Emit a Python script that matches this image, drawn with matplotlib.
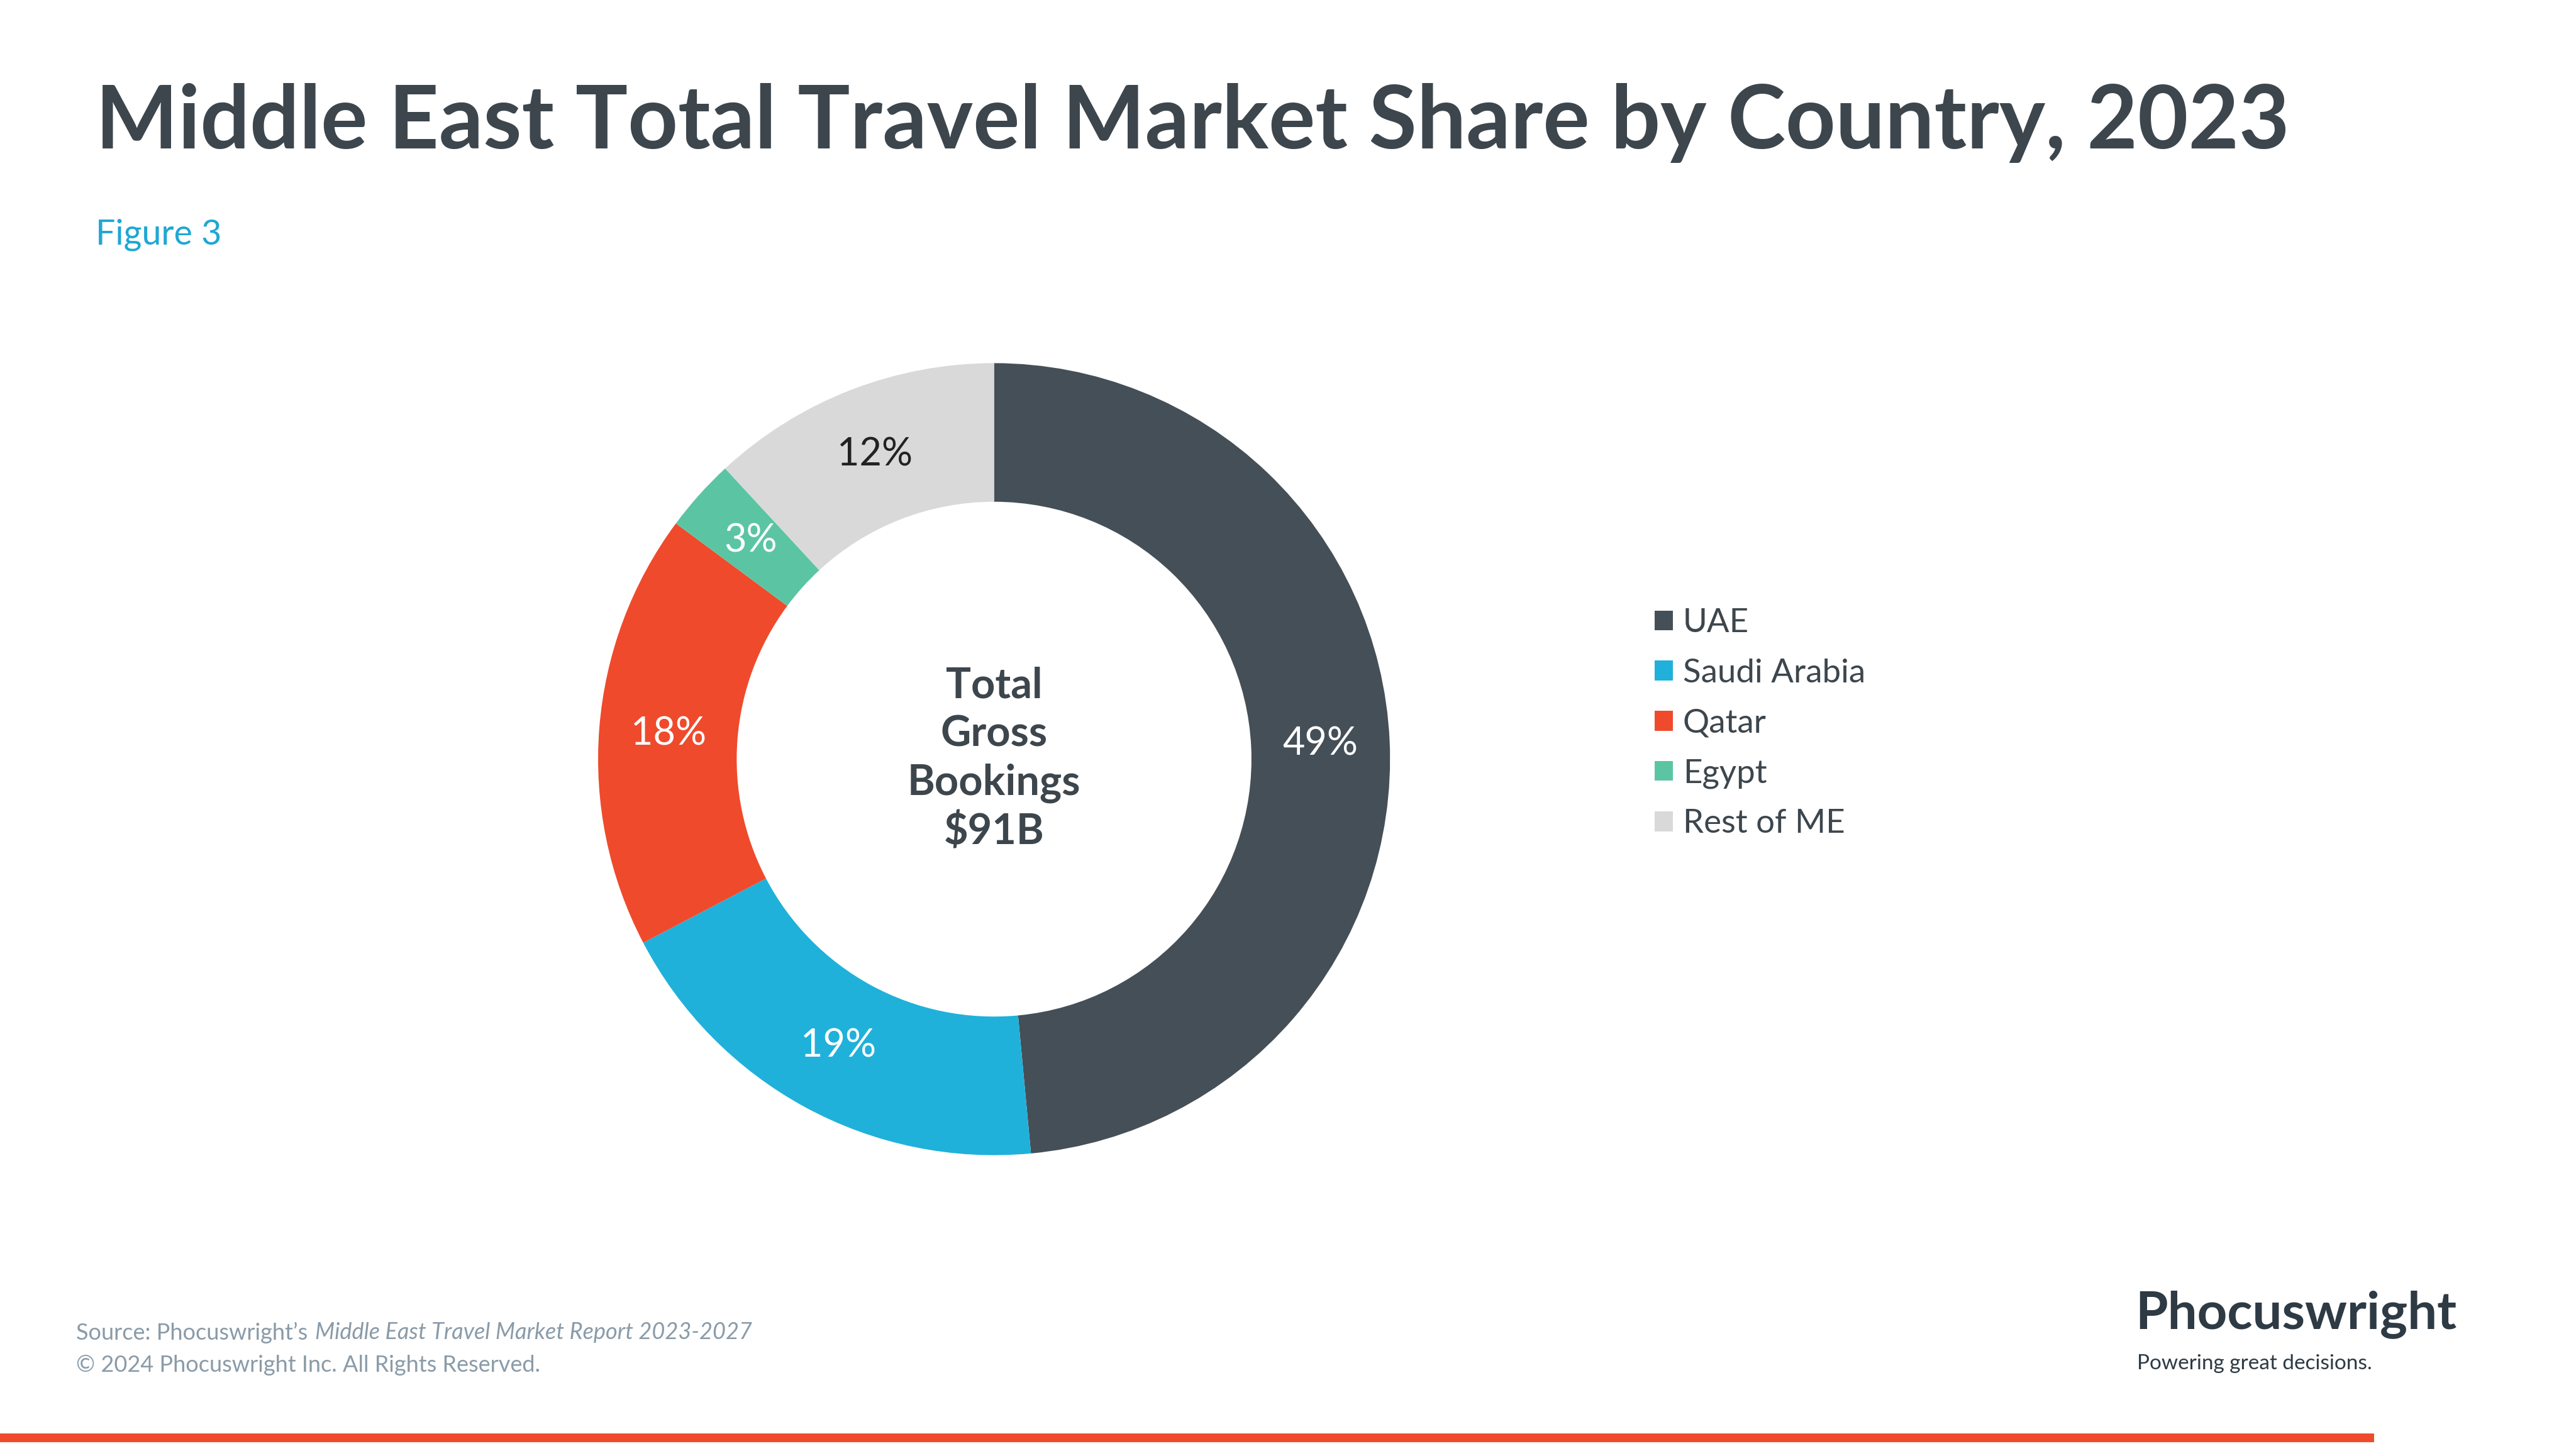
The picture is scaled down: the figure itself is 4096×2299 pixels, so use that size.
import matplotlib
matplotlib.use("Agg")
import matplotlib.pyplot as plt
from matplotlib.lines import Line2D
from matplotlib.patches import Patch
import numpy as np

categories = ["UAE", "Saudi Arabia", "Qatar", "Egypt", "Rest of ME"]
shares = [49, 19, 18, 3, 12]
labels = ["49%", "19%", "18%", "3%", "12%"]
colors = ["#454F57", "#1FB1DA", "#EF4A2C", "#5BC5A3", "#D9D9D9"]
label_colors = ["white", "white", "white", "white", "#222222"]

plt.rcParams['font.family'] = ['Lato', 'DejaVu Sans']
W, H = 4096, 2299
dpi = 200
fig = plt.figure(figsize=(W / dpi, H / dpi), dpi=dpi, facecolor="white")

fig.text(58/1560, 1-75/880, "Middle East Total Travel Market Share by Country, 2023",
         fontsize=50, fontweight="bold", color="#3D464D", va="center", ha="left")
fig.text(58/1560, 1-143/880, "Figure 3", fontsize=20, color="#1FA7D4", va="center", ha="left")

cx, cy, r = 602/1560, 1-462/880, 241/880
h = 2 * r * 1.05
w = h * H / W
ax = fig.add_axes([cx - w/2, cy - h/2, w, h])
wedges, texts = ax.pie(shares, colors=colors, startangle=90, counterclock=False, radius=1.0,
                       wedgeprops=dict(width=0.35, edgecolor="none"))
ax.set_xlim(-1.05, 1.05); ax.set_ylim(-1.05, 1.05); ax.set_aspect("equal"); ax.axis("off")
for wdg, lab, lc in zip(wedges, labels, label_colors):
    mid = np.deg2rad((wdg.theta1 + wdg.theta2) / 2)
    ax.text(0.825*np.cos(mid), 0.825*np.sin(mid), lab, ha="center", va="center",
            fontsize=22, color=lc)
ax.text(0, 0, "Total\nGross\nBookings\n$91B", ha="center", va="center", fontsize=24,
        fontweight="bold", color="#3D464D", linespacing=1.3)

handles = [Patch(facecolor=c, edgecolor="none") for c in colors]
fig.legend(handles, categories, loc="upper left", bbox_to_anchor=(984/1560, 1-352/880),
           frameon=False, fontsize=19, handlelength=0.55, handleheight=0.55,
           handletextpad=0.3, labelspacing=0.62, labelcolor="#3D464D")

fig.text(46/1560, 1-811/880, "Source: Phocuswright\u2019s", fontsize=13, color="#8A9BA8", va="center")
fig.text(191/1560, 1-811/880, "Middle East Travel Market Report 2023-2027", fontsize=13,
         color="#8A9BA8", va="center", style="italic")
fig.text(46/1560, 1-831/880, "\u00a9 2024 Phocuswright Inc. All Rights Reserved.", fontsize=13,
         color="#8A9BA8", va="center")

fig.text(1293/1560, 1-800/880, "Phocuswright", fontsize=30, fontweight="bold", color="#2E3A44", va="center")
fig.text(1294/1560, 1-830/880, "Powering great decisions.", fontsize=12, color="#2E3A44", va="center")

fig.add_artist(Line2D([0, 1435/1560], [1-875/880]*2, color="#EF4A2C", lw=5))

fig.savefig("out.png", dpi=dpi, facecolor="white")
